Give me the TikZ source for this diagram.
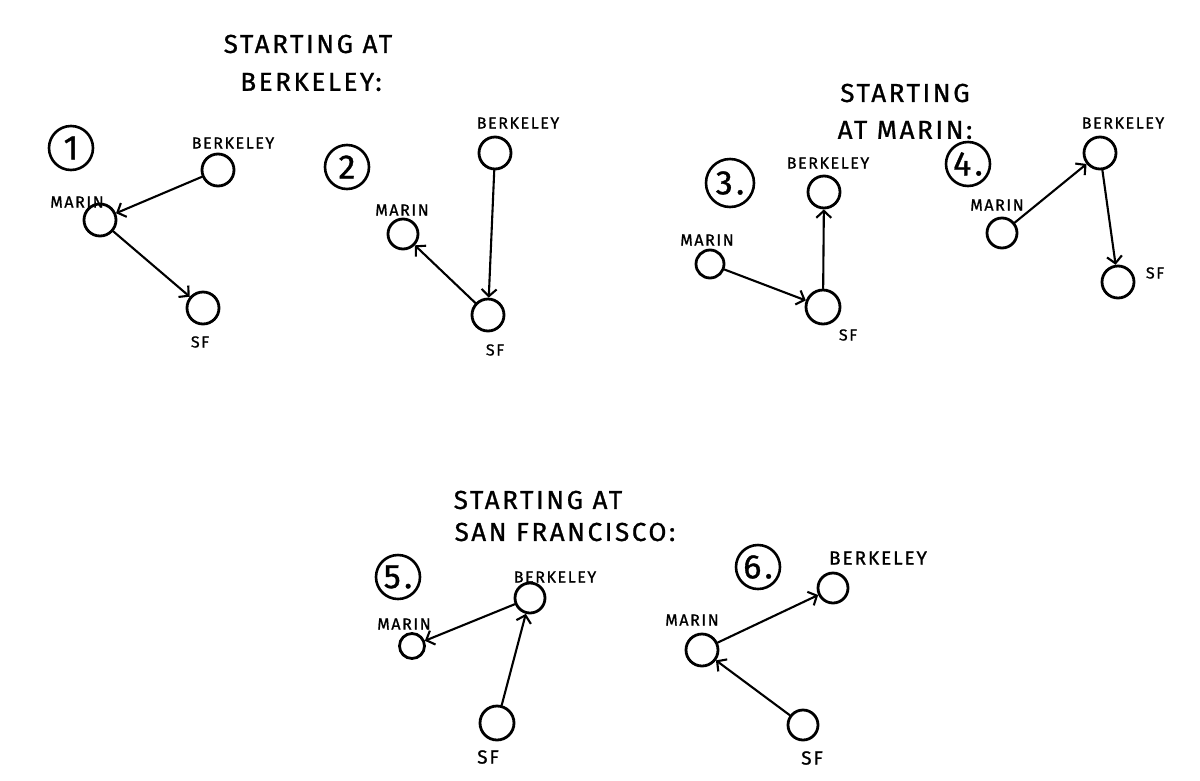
\documentclass[tikz,border=0pt]{standalone}
\usepackage{fontspec}
\newfontfamily\hand{Fira Sans}[LetterSpace=10,FakeBold=1]
\usetikzlibrary{arrows.meta}
\begin{document}
\begin{tikzpicture}[x=1pt,y=-1pt,line cap=round,
  town/.style={draw,circle,line width=2.8pt,minimum size=32pt,inner sep=0pt},
  num/.style={draw,circle,line width=2.6pt,minimum size=44pt,inner sep=0pt,font=\hand\fontsize{34}{34}\selectfont},
  lbl/.style={inner sep=0pt,font=\hand\fontsize{16}{16}\selectfont},
  lblbig/.style={inner sep=0pt,font=\hand\fontsize{19}{19}\selectfont},
  heading/.style={inner sep=0pt,font=\hand\fontsize{26}{26}\selectfont},
  go/.style={line width=2.1pt,-{Straight Barb[length=7pt,width=15pt,line width=2.1pt]}}]
\useasboundingbox (0,0) rectangle (1200,780);
\node[heading] (t1a) at (308,44) {STARTING AT};
\node[heading] (t1b) at (311,82) {BERKELEY:};
\node[num] (n1) at (71,148) {1};
\node[town] (b1) at (218,170) {};
\node[town] (m1) at (100,220) {};
\node[town] (s1) at (203,308) {};
\node[lbl] (b1l) at (233,143) {BERKELEY};
\node[lbl] (m1l) at (77,202) {MARIN};
\node[lbl] (s1l) at (200,342) {SF};
\draw[go] (b1)--(m1);\draw[go] (m1)--(s1);
\node[num] (n2) at (347,167) {2};
\node[town] (b2) at (495,153) {};
\node[town,minimum size=30pt] (m2) at (403,234) {};
\node[town] (s2) at (488,315) {};
\node[lbl] (b2l) at (518,123) {BERKELEY};
\node[lbl] (m2l) at (402,210) {MARIN};
\node[lbl] (s2l) at (495,350) {SF};
\draw[go] (b2)--(s2);\draw[go] (s2)--(m2);
\node[heading] (t2a) at (905,93) {STARTING};
\node[heading] (t2b) at (905,130) {AT MARIN:};
\node[num,minimum size=48pt] (n3) at (730,183) {3.};
\node[town] (b3) at (824,192) {};
\node[town,minimum size=28pt] (m3) at (710,264) {};
\node[town,minimum size=34pt] (s3) at (823,307) {};
\node[lbl] (b3l) at (828,163) {BERKELEY};
\node[lbl] (m3l) at (707,240) {MARIN};
\node[lbl] (s3l) at (848,335) {SF};
\draw[go] (m3)--(s3);\draw[go] (s3)--(b3);
\node[num] (n4) at (968,164) {4.};
\node[town] (b4) at (1100,153) {};
\node[town,minimum size=30pt] (m4) at (1002,233) {};
\node[town] (s4) at (1118,282) {};
\node[lbl] (b4l) at (1123,123) {BERKELEY};
\node[lbl] (m4l) at (997,205) {MARIN};
\node[lbl] (s4l) at (1155,273) {SF};
\draw[go] (m4)--(b4);\draw[go] (b4)--(s4);
\node[heading] (t3a) at (538,500) {STARTING AT};
\node[heading] (t3b) at (565,532) {SAN FRANCISCO:};
\node[num] (n5) at (398,577) {5.};
\node[town,minimum size=30pt] (b5) at (530,598) {};
\node[town,minimum size=25pt] (m5) at (412,646) {};
\node[town,minimum size=34pt] (s5) at (497,723) {};
\node[lbl] (b5l) at (555,577) {BERKELEY};
\node[lbl] (m5l) at (404,624) {MARIN};
\node[lblbig] (s5l) at (488,757) {SF};
\draw[go] (b5)--(m5);\draw[go] (s5)--(b5);
\node[num] (n6) at (758,567) {6.};
\node[town,minimum size=30pt] (b6) at (833,588) {};
\node[town] (m6) at (702,650) {};
\node[town,minimum size=30pt] (s6) at (803,725) {};
\node[lblbig] (b6l) at (878,558) {BERKELEY};
\node[lbl] (m6l) at (692,620) {MARIN};
\node[lblbig] (s6l) at (812,758) {SF};
\draw[go] (m6)--(b6);\draw[go] (s6)--(m6);
\end{tikzpicture}
\end{document}
